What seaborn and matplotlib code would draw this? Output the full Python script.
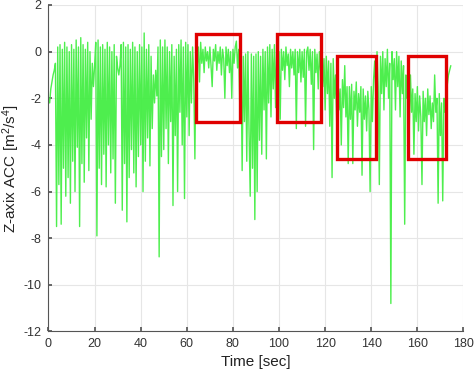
import numpy as np
import matplotlib
matplotlib.use("Agg")
import matplotlib.pyplot as plt
import seaborn as sns
from matplotlib.patches import Rectangle

# Z-axis acceleration, one reading every 0.5 s
acc_000 = [-2.0, -2.2, -1.6, -1.3, -1.0, -0.8, -0.5, -7.5, 0.2, -5.7,
           0.3, -7.4, 0.1, -5.0, 0.4, -6.2, 0.2, -5.4, 0.0, -6.5]
acc_010 = [0.3, -4.7, 0.1, -6.0, 0.5, -4.1, 0.2, -7.5, 0.6, -4.8,
           0.3, -5.6, 0.1, -3.7, 0.4, -5.1, 0.0, -2.9, -0.5, -1.5]
acc_020 = [-0.6, 0.4, -7.9, 0.5, -5.0, 0.2, -5.7, 0.3, -4.4, 0.1,
           -5.8, 0.4, -4.0, 0.2, -5.2, 0.0, -4.6, 0.3, -6.5, -0.2]
acc_030 = [-0.7, -1.0, -0.6, 0.3, -6.8, 0.4, -4.8, 0.2, -7.3, 0.3,
           -5.4, 0.1, -4.2, 0.4, -5.2, 0.2, -5.8, 0.0, -4.5, 0.3]
acc_040 = [-4.0, 0.2, -6.0, 0.8, -4.7, 0.1, -3.7, 0.3, -4.9, -0.2,
           -3.3, -1.0, -2.2, -0.8, -1.9, 0.2, -8.8, 0.5, -4.5, 0.2]
acc_050 = [-4.2, 0.5, -3.3, 0.2, -4.8, 0.0, -3.0, 0.3, -6.6, -0.2,
           -3.6, 0.1, -6.0, 0.3, -2.6, 0.5, -4.0, 0.2, -6.3, 0.4]
acc_060 = [-2.8, 0.3, -3.6, 0.0, -2.2, 0.2, -1.2, -4.6, 0.1, -0.6,
           0.2, -1.3, 0.4, -0.5, 0.1, -0.9, 0.2, -0.4, 0.0, -0.7]
acc_070 = [0.2, -0.6, -1.5, 0.1, -0.4, 0.3, -0.8, 0.0, -0.5, 0.2,
           -1.0, 0.1, -0.3, -2.0, 0.2, -0.6, 0.1, -0.9, 0.0, -2.0]
acc_080 = [0.1, -0.5, 0.2, 0.45, -0.7, 0.1, -2.5, -0.3, -5.1, -0.2,
           -3.0, -0.1, -4.7, 0.0, -3.5, -6.2, -0.1, -5.0, -0.2, -7.2]
acc_090 = [-0.1, -6.0, 0.0, -3.8, -0.2, -4.4, 0.1, -2.5, 0.0, -4.6,
           0.2, -2.2, 0.3, -2.8, 0.1, -1.6, 0.3, -2.4, 0.2, -0.6]
acc_100 = [0.0, -2.9, 0.1, -0.8, 0.0, -1.2, 0.2, -0.6, -0.1, -1.5,
           0.1, -0.7, 0.0, -1.0, 0.1, -3.3, 0.0, -0.9, 0.1, -1.3]
acc_110 = [0.0, -1.1, 0.1, -3.2, 0.0, 0.2, -0.8, 0.1, -1.4, 0.0,
           -4.2, 0.1, -0.9, -0.1, -1.6, 0.0, -0.8, -0.2, -1.5, -0.3]
acc_120 = [-2.5, -0.2, -1.8, -0.4, -3.2, -0.5, -5.4, -0.3, -2.0, -1.0,
           -3.0, -0.9, -2.5, -1.6, -4.0, -1.2, -2.4, -0.6, -2.8, -1.5]
acc_130 = [-4.8, -1.5, -2.9, -1.4, -4.8, -1.7, -2.5, -1.3, -3.2, -1.8,
           -2.6, -1.5, -5.3, -1.6, -2.9, -1.9, -3.4, -1.7, -2.5, -6.0]
acc_140 = [-1.5, -3.0, -1.2, -0.4, -2.2, 0.0, -1.5, -5.7, -0.2, -1.8,
           0.0, -2.5, -0.3, -1.5, 0.1, -2.0, -0.5, -10.8, 0.0, -1.2]
acc_150 = [-0.3, -2.5, 0.0, -1.5, -0.2, -2.8, -0.4, -1.8, -0.6, -7.4,
           -1.0, -2.0, -1.4, -3.2, -1.0, -2.6, -1.6, -4.4, -1.8, -3.0]
acc_160 = [-1.5, -3.4, -1.9, -2.8, -5.7, -1.7, -3.0, -2.0, -3.6, -1.6,
           -2.7, -1.9, -3.3, -2.2, -3.0, -1.0, -2.6, -2.0, -6.5, -1.8]
acc_170 = [-3.6, -2.2, -6.4, -2.0, -2.6, -1.9, -1.4, -1.0, -0.8, -0.6]

acc = (acc_000 + acc_010 + acc_020 + acc_030 + acc_040 + acc_050 + acc_060
       + acc_070 + acc_080 + acc_090 + acc_100 + acc_110 + acc_120 + acc_130
       + acc_140 + acc_150 + acc_160 + acc_170)
time = np.arange(len(acc)) * 0.5

# highlighted windows (time from/to, acc low/high)
box_t0 = [63.8, 99.3, 125.1, 155.8]
box_t1 = [83.0, 118.3, 141.9, 172.5]
box_lo = [-3.0, -3.0, -4.6, -4.6]
box_hi = [0.77, 0.77, -0.2, -0.2]

sns.set_theme(style="whitegrid")
plt.rcParams['font.family'] = ['Liberation Sans', 'DejaVu Sans']
plt.rcParams['axes.unicode_minus'] = False
plt.rcParams['mathtext.fontset'] = 'custom'
plt.rcParams['mathtext.rm'] = 'Liberation Sans'
plt.rcParams['mathtext.it'] = 'Liberation Sans'

fig = plt.figure(figsize=(4.74, 3.73), dpi=100)
ax = fig.add_axes([0.1023, 0.1113, 0.8755, 0.8753])

sns.lineplot(x=time, y=acc, ax=ax, color='#44ee44', linewidth=1.0, alpha=0.95)

for t0, t1, lo, hi in zip(box_t0, box_t1, box_lo, box_hi):
    ax.add_patch(Rectangle((t0, lo), t1 - t0, hi - lo, fill=False,
                           edgecolor='#e00000', linewidth=2.4, zorder=5))

ax.set_xlim(0, 180)
ax.set_ylim(-12, 2)
ax.set_xticks(range(0, 181, 20))
ax.set_yticks(range(-12, 3, 2))
ax.grid(True, color='#e6e6e6', linewidth=0.8)
ax.set_facecolor('white')
for side in ['top', 'right']:
    ax.spines[side].set_visible(False)
for side in ['left', 'bottom']:
    ax.spines[side].set_color('#555555')
    ax.spines[side].set_linewidth(0.8)
ax.tick_params(direction='in', length=3, colors='#555555', labelcolor='#333333',
               labelsize=9, left=True, bottom=True, pad=5)
ax.set_xlabel('Time [sec]', fontsize=11, color='#222222', labelpad=3)
ax.set_ylabel(r'Z-axix ACC [m$^2$/s$^4$]', fontsize=11, color='#222222', labelpad=1)

fig.savefig('out.png', dpi=100)
